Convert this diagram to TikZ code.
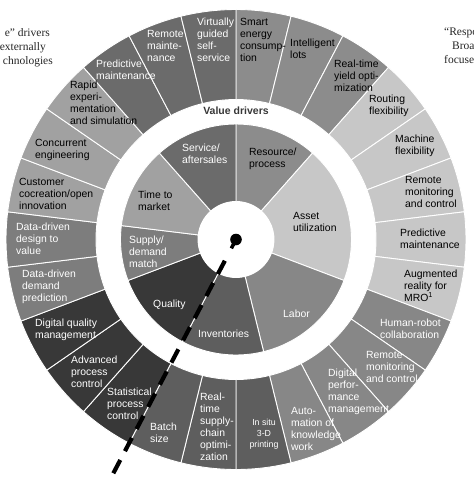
\documentclass[tikz,border=0pt]{standalone}
\usepackage{fontspec}
\setmainfont{Liberation Sans}
\newfontfamily\serifpart{Liberation Serif}
\definecolor{cres}{gray}{0.55}
\definecolor{cass}{gray}{0.78}
\definecolor{clab}{gray}{0.53}
\definecolor{cinv}{gray}{0.37}
\definecolor{cqua}{gray}{0.22}
\definecolor{csup}{gray}{0.49}
\definecolor{cttm}{gray}{0.63}
\definecolor{cser}{gray}{0.42}
\newcommand\ml[1]{\begin{tabular}[t]{@{}l@{}}#1\end{tabular}}
\newcommand\mc[1]{\begin{tabular}[t]{@{}c@{}}#1\end{tabular}}
\tikzset{
  segbox/.style={draw=white, line width=0.9pt},
  otxt/.style={inner sep=0pt, anchor=base west, font=\fontsize{10.4}{12}\selectfont},
  wt/.style={otxt, text=white},
  kt/.style={otxt, text=black},
  frag/.style={inner sep=0pt, font=\serifpart\fontsize{11.5}{14}\selectfont, text=black!85},
}
\begin{document}
\begin{tikzpicture}[x=1pt,y=-1pt]
\useasboundingbox (0,0) rectangle (474,491);
\begin{scope}[shift={(236,239.5)}, yscale=-1]
  \coordinate (ctr) at (0,0);
  \foreach \i/\c in {0/cres,1/cres,2/cres,3/cass,4/cass,5/cass,6/cass,7/cass,8/clab,9/clab,10/clab,11/clab,12/cinv,13/cinv,14/cinv,15/cqua,16/cqua,17/cqua,18/csup,19/csup,20/cttm,21/cttm,22/cttm,23/cser,24/cser,25/cser} {
    \pgfmathsetmacro\a{90-\i*360/26}
    \pgfmathsetmacro\b{90-(\i+1)*360/26}
    \filldraw[segbox, fill=\c] (\a:230) arc[start angle=\a, end angle=\b, radius=230] -- (\b:140) arc[start angle=\b, end angle=\a, radius=140] -- cycle;
  }
  \foreach \s/\e/\c in {0/3/cres,3/8/cass,8/12/clab,12/15/cinv,15/18/cqua,18/20/csup,20/23/cttm,23/26/cser} {
    \pgfmathsetmacro\a{90-\s*360/26}
    \pgfmathsetmacro\b{90-\e*360/26}
    \filldraw[segbox, fill=\c] (\a:115.5) arc[start angle=\a, end angle=\b, radius=115.5] -- (\b:38) arc[start angle=\b, end angle=\a, radius=38] -- cycle;
  }
  \fill[white] (ctr) circle[radius=38];
  \coordinate (dashA) at (-117.69:24);
  \coordinate (dashB) at (-117.69:266);
  \coordinate (stemEnd) at (-117.69:10);
  \draw[line width=4.2pt, dash pattern=on 15pt off 10pt] (dashA) -- (dashB);
  \fill (ctr) circle[radius=5.8];
  \draw[line width=3.6pt] (ctr) -- (stemEnd);
\end{scope}

\node[inner sep=0pt, anchor=base, font=\bfseries\fontsize{10.5}{12}\selectfont, text=black!78] (vd) at (236,114) {Value drivers};

% outer ring labels
\node[kt] (o0) at (240,25) {\ml{Smart\\energy\\consump-\\tion}};
\node[kt] (o1) at (290,46) {\ml{Intelligent\\lots}};
\node[kt] (o2) at (334,67) {\ml{Real-time\\yield opti-\\mization}};
\node[kt] (o3) at (369,102) {\ml{Routing\\flexibility}};
\node[kt] (o4) at (395,142) {\ml{Machine\\flexibility}};
\node[kt] (o5) at (405,183) {\ml{Remote\\monitoring\\and control}};
\node[kt] (o6) at (400,236) {\ml{Predictive\\maintenance}};
\node[kt] (o7) at (404,277) {\ml{Augmented\\reality for\\MRO\textsuperscript{1}}};
\node[wt] (o8) at (380,326) {\ml{Human-robot\\collaboration}};
\node[wt] (o9) at (366,358) {\ml{Remote\\monitoring\\and control}};
\node[wt] (o10) at (328,376) {\ml{Digital\\perfor-\\mance\\management}};
\node[wt] (o11) at (291,414) {\ml{Auto-\\mation of\\knowledge\\work}};
\node[wt, anchor=base, font=\fontsize{8.8}{11}\selectfont] (o12) at (264,425) {\mc{In situ\\3-D\\printing}};
\node[wt] (o13) at (200,400) {\ml{Real-\\time\\supply-\\chain\\optimi-\\zation}};
\node[wt] (o14) at (150,430) {\ml{Batch\\size}};
\node[wt] (o15) at (107,395) {\ml{Statistical\\process\\control}};
\node[wt] (o16) at (71,363) {\ml{Advanced\\process\\control}};
\node[wt] (o17) at (35,326) {\ml{Digital quality\\management}};
\node[wt] (o18) at (22,277) {\ml{Data-driven\\demand\\prediction}};
\node[wt] (o19) at (16,230) {\ml{Data-driven\\design to\\value}};
\node[kt] (o20) at (19,185) {\ml{Customer\\cocreation/open\\innovation}};
\node[kt] (o21) at (35,146) {\ml{Concurrent\\engineering}};
\node[kt] (o22) at (70,88) {\ml{Rapid\\experi-\\mentation\\and simulation}};
\node[wt] (o23) at (96,67) {\ml{Predictive\\maintenance}};
\node[wt] (o24) at (147,37) {\ml{Remote\\mainte-\\nance}};
\node[wt] (o25) at (197,25) {\ml{Virtually\\guided\\self-\\service}};

% inner ring labels
\node[kt] (ires) at (249,155) {\ml{Resource/\\process}};
\node[kt] (iass) at (293,219) {\ml{Asset\\utilization}};
\node[wt] (ilab) at (283,317) {Labor};
\node[wt] (iinv) at (198,337) {Inventories};
\node[wt] (iqua) at (153,307) {Quality};
\node[wt] (isup) at (129,243) {\ml{Supply/\\demand\\match}};
\node[kt] (ittm) at (138,198) {\ml{Time to\\market}};
\node[wt] (iser) at (182,151) {\ml{Service/\\aftersales}};

% cropped surrounding text
\node[frag, anchor=base east] (fl1) at (50,36) {e” drivers};
\node[frag, anchor=base east] (fl2) at (46,50) {externally};
\node[frag, anchor=base east] (fl3) at (53,64) {chnologies};
\node[frag, anchor=base west] (fr1) at (444,35) {“Respo};
\node[frag, anchor=base west] (fr2) at (452,49) {Broa};
\node[frag, anchor=base west] (fr3) at (444,63) {focuse};
\end{tikzpicture}
\end{document}
